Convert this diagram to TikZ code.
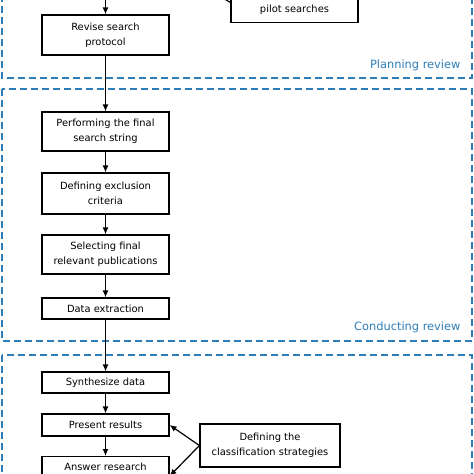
\documentclass[tikz,border=0pt]{standalone}
\usepackage{fontspec}
\setmainfont{DejaVu Sans}
\usetikzlibrary{positioning, arrows.meta, calc}
\definecolor{phaseblue}{RGB}{46,125,182}

\begin{document}
\begin{tikzpicture}[
            x=1pt, y=-1pt,
            task/.style={rectangle, draw, line width=1.2pt, minimum width=127pt,
                         minimum height=21pt, inner sep=3pt, align=center,
                         font=\fontsize{9.9}{15}\selectfont},
            phase/.style={draw=phaseblue, line width=1.8pt, dash pattern=on 7pt off 4pt},
            phaselabel/.style={text=phaseblue, anchor=east, font=\fontsize{11.4}{13}\selectfont},
            flow/.style={draw, line width=1.2pt, -{Latex[length=7pt, width=6pt]}}
            ]
        \useasboundingbox (0,0) rectangle (474,474);

        % Phasen
        \draw[phase] (2,-60) rectangle (472,78);
        \draw[phase] (2,89) rectangle (472,341);
        \draw[phase] (2,355) rectangle (472,540);
        \node[phaselabel] (planlabel) at (464,65) {Planning review};
        \node[phaselabel] (condlabel) at (464,327) {Conducting review};

        % Schritte
        \node[task, minimum height=40pt] (revise) at (105.5,35) {Revise search\\protocol};
        \node[task, anchor=south, text height=27pt, text depth=7pt] (pilot) at (294.5,23) {pilot searches};
        \node[task, minimum height=39pt] (search) at (105.5,131.5) {Performing the final\\search string};
        \node[task, minimum height=41pt] (exclude) at (105.5,193.5) {Defining exclusion\\criteria};
        \node[task, minimum height=39pt] (select) at (105.5,254.5) {Selecting final\\relevant publications};
        \node[task] (extract) at (105.5,308.5) {Data extraction};
        \node[task] (synth) at (105.5,382.5) {Synthesize data};
        \node[task, minimum height=22pt] (present) at (105.5,425) {Present results};
        \node[task, anchor=north, text height=11pt, text depth=22pt] (answer) at (105.5,456) {Answer research};
        \node[task, minimum width=140pt, minimum height=43pt] (classify) at (270,445.5) {Defining the\\classification strategies};

        % Pfeile
        \coordinate (entry) at (105.5,-5);
        \coordinate (pilotlink) at (205,-12);
        \draw[flow] (entry) -- (revise);
        \draw[flow] (pilot.west) -- (pilotlink);
        \draw[flow] (revise) -- (search);
        \draw[flow] (search) -- (exclude);
        \draw[flow] (exclude) -- (select);
        \draw[flow] (select) -- (extract);
        \draw[flow] (extract) -- (synth);
        \draw[flow] (synth) -- (present);
        \draw[flow] (present) -- (answer);
        \draw[flow] (classify.west) -- (present.east);
        \draw[flow] (classify.west) -- (answer.east);
        \end{tikzpicture}
\end{document}
